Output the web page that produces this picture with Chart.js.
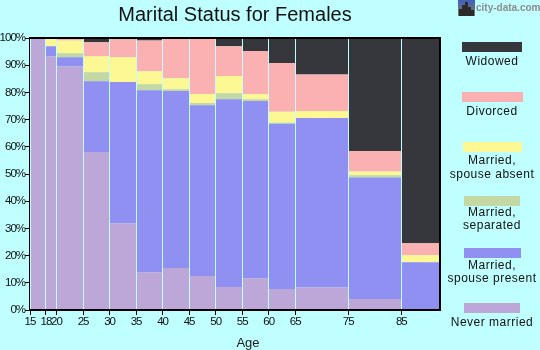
<!DOCTYPE html>
<html>
<head>
<meta charset="utf-8">
<title>Marital Status for Females</title>
<script src="https://cdn.jsdelivr.net/npm/chart.js@4"></script>
<style>
  html, body { margin: 0; padding: 0; background: #bfffff; }
  canvas { display: block; }
</style>
</head>
<body>
<canvas id="chart" width="540" height="350"></canvas>
<script>
// left edge of each age bin, the last bin runs out to ageEnd
const ageEdges = [15, 18, 20, 25, 30, 35, 40, 45, 50, 55, 60, 65, 75, 85];
const ageEnd = 92.3;
const percentTicks = [0, 10, 20, 30, 40, 50, 60, 70, 80, 90, 100];

// share of women in each bin, in percent
const neverMarried = [100, 93.3, 89.6, 58.1, 31.9, 13.9, 15.4, 12.5, 8.5, 11.7, 7.7, 8.4, 4, 0];
const spousePresent = [0, 3.7, 3.3, 26, 51.9, 66.9, 65.1, 62.8, 69, 65.1, 60.8, 62.2, 44.7, 17.6];
const separated = [0, 0, 1.5, 3.3, 0, 2.2, 0.7, 0.8, 2.2, 0.7, 0.3, 0, 0.8, 0];
const spouseAbsent = [0, 3, 4.7, 5.9, 9.1, 4.8, 4, 3.3, 6.3, 1.9, 4.1, 2.6, 1.4, 2.5];
const divorced = [0, 0, 0.9, 5.1, 6.6, 11.3, 14.8, 20.6, 11, 15.8, 17.9, 13.4, 7.6, 4.4];
const widowed = [0, 0, 0, 1.6, 0.5, 0.9, 0, 0, 3, 4.8, 9.2, 13.4, 41.5, 75.5];

const bgColor = '#bfffff';
const axisFont = { family: '"Liberation Sans", sans-serif', size: 11.5 };

// repeat the last value at ageEnd so the last step has a width
function toPoints(values) {
    const points = values.map((v, i) => ({ x: ageEdges[i], y: v }));
    points.push({ x: ageEnd, y: values[values.length - 1] });
    return points;
}

function band(label, values, color, fill) {
    return {
        label: label,
        data: toPoints(values),
        backgroundColor: color,
        borderWidth: 0,
        pointRadius: 0,
        stepped: 'before',
        fill: fill
    };
}

// hand placed legend, same layout as the picture
const legendItems = [
    { lines: ['Widowed'], color: '#36373c', x: 462, w: 60, y: 42, textY: [62] },
    { lines: ['Divorced'], color: '#fbb1b1', x: 462, w: 61, y: 92, textY: [112] },
    { lines: ['Married,', 'spouse absent'], color: '#fdf894', x: 463, w: 59, y: 142, textY: [161, 175] },
    { lines: ['Married,', 'separated'], color: '#c4d8a4', x: 464, w: 56, y: 196, textY: [213, 226] },
    { lines: ['Married,', 'spouse present'], color: '#9090f2', x: 464, w: 57, y: 248, textY: [266, 279] },
    { lines: ['Never married'], color: '#bda7d8', x: 464, w: 56, y: 303, textY: [323] }
];

const extras = {
    id: 'extras',
    beforeDraw(chart) {
        // the tick labels in the picture are squeezed, no narrow font is installed
        chart.ctx.letterSpacing = '-1px';
    },
    afterDraw(chart) {
        const ctx = chart.ctx;
        const area = chart.chartArea;
        ctx.save();

        // top and right frame
        ctx.strokeStyle = '#000';
        ctx.lineWidth = 2;
        ctx.beginPath();
        ctx.moveTo(area.left, area.top);
        ctx.lineTo(area.right, area.top);
        ctx.lineTo(area.right, area.bottom);
        ctx.stroke();

        // title, centred on the plot
        ctx.letterSpacing = '0px';
        ctx.textAlign = 'center';
        ctx.textBaseline = 'middle';
        ctx.fillStyle = '#111';
        ctx.font = '20px "Liberation Sans", sans-serif';
        ctx.fillText('Marital Status for Females', (area.left + area.right) / 2, 15);

        // legend
        ctx.font = '12px "Liberation Sans", sans-serif';
        ctx.letterSpacing = '0.5px';
        legendItems.forEach(item => {
            ctx.fillStyle = item.color;
            ctx.fillRect(item.x, item.y, item.w, 10);
            ctx.fillStyle = '#111';
            item.lines.forEach((line, i) => ctx.fillText(line, 492, item.textY[i]));
        });
        ctx.letterSpacing = '0px';

        // axis title sits right of the plot centre
        ctx.fillStyle = '#222';
        ctx.font = '13px "Liberation Sans", sans-serif';
        ctx.fillText('Age', 248, 343);

        // city-data logo
        const sky = ctx.createLinearGradient(0, 0, 0, 16);
        sky.addColorStop(0, '#3f5fc0');
        sky.addColorStop(1, '#8a7a50');
        ctx.fillStyle = sky;
        ctx.fillRect(458, 0, 17, 16);
        ctx.fillStyle = '#2c2a2a';
        [[459, 9, 3], [462, 5, 3], [465, 2, 3], [468, 7, 3], [471, 10, 3]].forEach(b => {
            ctx.fillRect(b[0], b[1], b[2], 16 - b[1]);
        });
        ctx.fillStyle = '#8c8c8c';
        ctx.textAlign = 'left';
        ctx.font = 'bold 10px "Liberation Sans", sans-serif';
        ctx.fillText('city-data.com', 476, 8);
        ctx.restore();
    }
};

new Chart(document.getElementById('chart'), {
    type: 'line',
    data: {
        datasets: [
            band('Never married', neverMarried, '#bda7d8', 'origin'),
            band('Married, spouse present', spousePresent, '#9090f2', '-1'),
            band('Married, separated', separated, '#c4d8a4', '-1'),
            band('Married, spouse absent', spouseAbsent, '#fdf894', '-1'),
            band('Divorced', divorced, '#fbb1b1', '-1'),
            band('Widowed', widowed, '#36373c', '-1')
        ]
    },
    options: {
        responsive: false,
        animation: false,
        layout: { padding: { top: 38, right: 100 } },
        scales: {
            x: {
                type: 'linear',
                min: 15,
                max: ageEnd,
                afterBuildTicks: axis => { axis.ticks = ageEdges.map(v => ({ value: v })); },
                afterFit: axis => { axis.height = 40; },
                grid: { color: bgColor, tickColor: '#000', tickLength: 5, z: 1, lineWidth: 1 },
                border: { color: '#000', width: 2, z: 2 },
                ticks: {
                    autoSkip: false,
                    maxRotation: 0,
                    color: '#111',
                    padding: 0,
                    font: axisFont,
                    callback: v => String(v)
                }
            },
            y: {
                stacked: true,
                min: 0,
                max: 100,
                afterBuildTicks: axis => { axis.ticks = percentTicks.map(v => ({ value: v })); },
                afterFit: axis => { axis.width = 30; },
                grid: { drawOnChartArea: false, tickColor: '#000', tickLength: 5 },
                border: { color: '#000', width: 2 },
                ticks: {
                    color: '#111',
                    padding: 0,
                    font: axisFont,
                    callback: v => v + '%'
                }
            }
        },
        plugins: {
            legend: { display: false },
            tooltip: { enabled: false }
        }
    },
    plugins: [extras]
});
</script>
</body>
</html>
